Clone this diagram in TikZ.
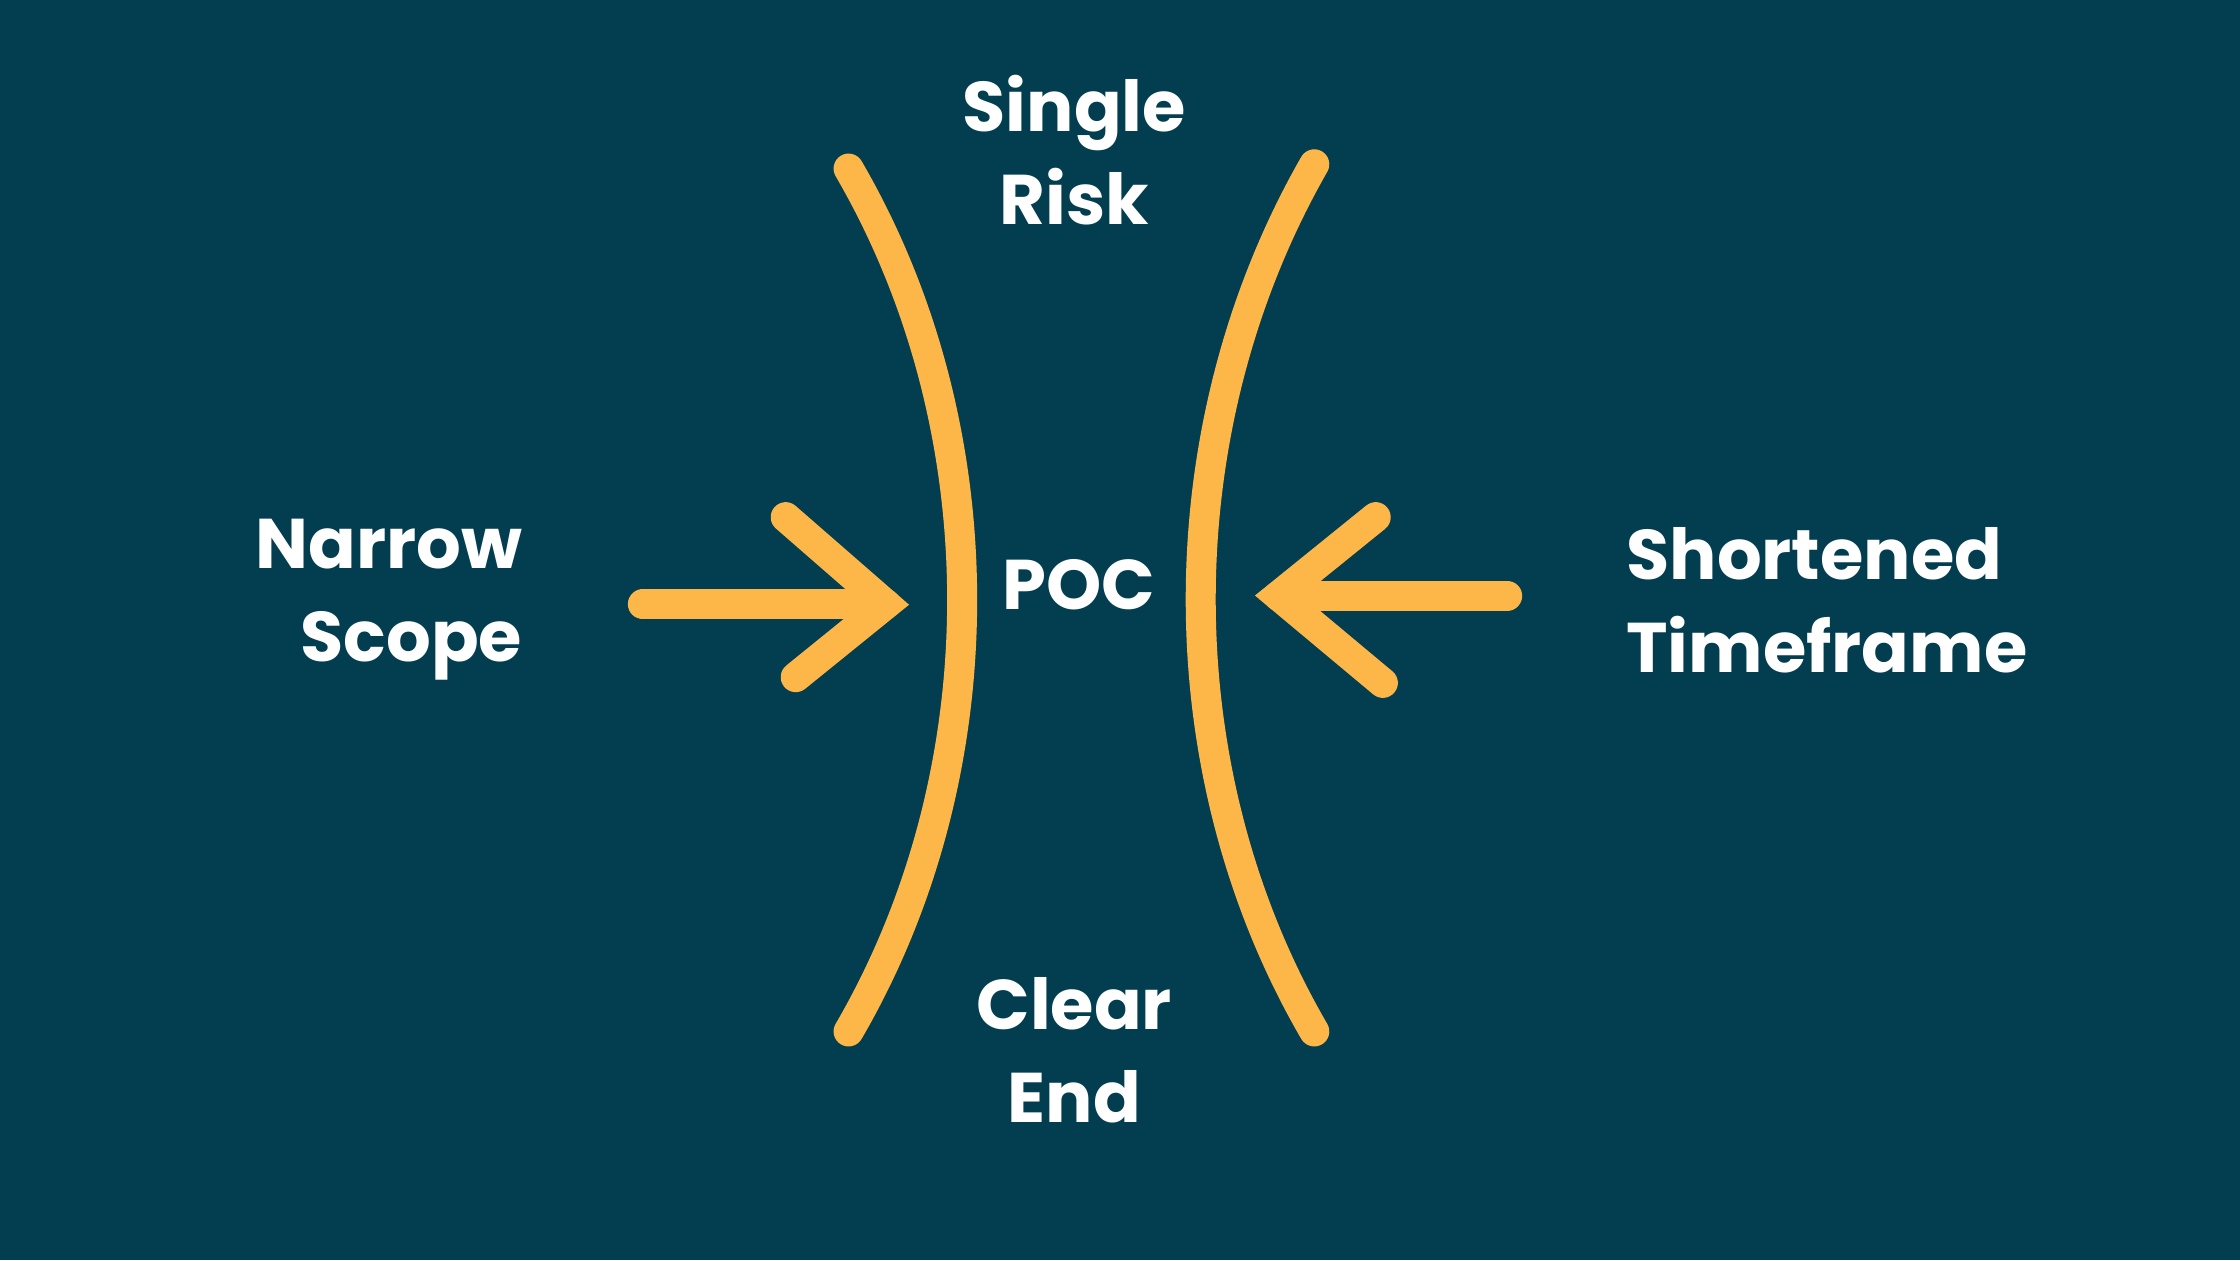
\documentclass[tikz,border=0pt]{standalone}
\usepackage{fontspec}
\setmainfont{Poppins}
\begin{document}
\begin{tikzpicture}[x=0.0142857cm,y=-0.0142857cm]
\definecolor{bg}{HTML}{023E50}
\definecolor{gold}{HTML}{FDB748}
\tikzset{stroke/.style={draw=gold,line width=0.3cm,line cap=round,line join=miter},
lab/.style={text=white,font=\bfseries\fontsize{20pt}{26.5pt}\selectfont,inner sep=0pt}}
\fill[bg] (0,0) rectangle (1568,882);
\useasboundingbox (0,0) rectangle (1568,882);
\coordinate (l1) at (594,118); \coordinate (l2) at (594,722);
\coordinate (r1) at (920,115); \coordinate (r2) at (920,722);
\draw[stroke] (l1) .. controls (700,300) and (700,540) .. (l2);
\draw[stroke] (r1) .. controls (814,300) and (814,540) .. (r2);
\coordinate (a0) at (450,423); \coordinate (at) at (620,423);
\coordinate (a1) at (550,362); \coordinate (a2) at (557,474);
\draw[stroke] (a0) -- (at);
\draw[stroke] (a1) -- (at) -- (a2);
\coordinate (b0) at (1055,417); \coordinate (bt) at (895,417);
\coordinate (b1) at (963,362); \coordinate (b2) at (968,478);
\draw[stroke] (b0) -- (bt);
\draw[stroke] (b1) -- (bt) -- (b2);
\node[lab,align=center] (single) at (752,105) {Single\\Risk};
\node[lab] (poc) at (755,409) {POC};
\node[lab,align=center] (clear) at (752,735) {Clear\\End};
\node[lab,align=right,anchor=east] (narrow) at (366,420) {Narrow\\Scope};
\node[lab,align=left,anchor=west] (short) at (1138,420) {Shortened\\Timeframe};
\end{tikzpicture}
\end{document}
